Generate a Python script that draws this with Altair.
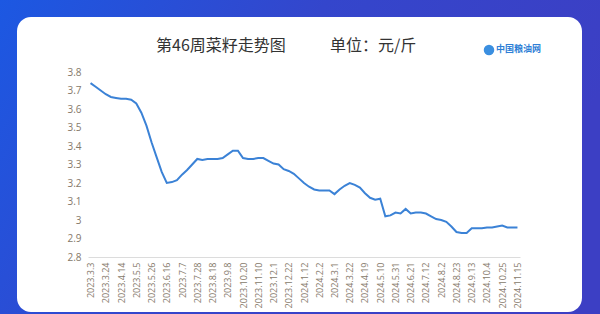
import altair as alt
import pandas as pd

dates = [
    "2023.3.3", "2023.3.10", "2023.3.17", "2023.3.24", "2023.3.31", "2023.4.7", "2023.4.14",
    "2023.4.21", "2023.4.28", "2023.5.5", "2023.5.12", "2023.5.19", "2023.5.26", "2023.6.2",
    "2023.6.9", "2023.6.16", "2023.6.23", "2023.6.30", "2023.7.7", "2023.7.14", "2023.7.21",
    "2023.7.28", "2023.8.4", "2023.8.11", "2023.8.18", "2023.8.25", "2023.9.1", "2023.9.8",
    "2023.9.15", "2023.9.22", "2023.10.20", "2023.10.27", "2023.11.3", "2023.11.10", "2023.11.17",
    "2023.11.24", "2023.12.1", "2023.12.8", "2023.12.15", "2023.12.22", "2023.12.29", "2024.1.5",
    "2024.1.12", "2024.1.19", "2024.1.26", "2024.2.2", "2024.2.8", "2024.2.23", "2024.3.1",
    "2024.3.8", "2024.3.15", "2024.3.22", "2024.3.29", "2024.4.12", "2024.4.19", "2024.4.26",
    "2024.5.3", "2024.5.10", "2024.5.17", "2024.5.24", "2024.5.31", "2024.6.7", "2024.6.14",
    "2024.6.21", "2024.6.28", "2024.7.5", "2024.7.12", "2024.7.19", "2024.7.26", "2024.8.2",
    "2024.8.9", "2024.8.16", "2024.8.23", "2024.8.30", "2024.9.6", "2024.9.13", "2024.9.20",
    "2024.9.27", "2024.10.4", "2024.10.11", "2024.10.18", "2024.10.25", "2024.11.1", "2024.11.8",
    "2024.11.15",
]

prices = [
    3.74, 3.72, 3.70, 3.68, 3.665, 3.66, 3.655, 3.655, 3.65, 3.63,
    3.58, 3.51, 3.42, 3.34, 3.26, 3.20, 3.205, 3.215, 3.245, 3.27,
    3.30, 3.33, 3.325, 3.33, 3.33, 3.33, 3.335, 3.355, 3.375, 3.375,
    3.335, 3.33, 3.33, 3.335, 3.335, 3.32, 3.305, 3.30, 3.275, 3.265,
    3.25, 3.225, 3.20, 3.18, 3.165, 3.16, 3.16, 3.16, 3.14, 3.165,
    3.185, 3.20, 3.19, 3.175, 3.145, 3.12, 3.11, 3.115, 3.02, 3.025,
    3.04, 3.035, 3.06, 3.035, 3.04, 3.04, 3.035, 3.02, 3.005, 3.0,
    2.99, 2.965, 2.935, 2.93, 2.93, 2.955, 2.955, 2.955, 2.96, 2.96,
    2.965, 2.97, 2.96, 2.96, 2.96,
]

tick_labels = [
    "2023.3.3", "2023.3.24", "2023.4.14", "2023.5.5", "2023.5.26", "2023.6.16", "2023.7.7",
    "2023.7.28", "2023.8.18", "2023.9.8", "2023.10.20", "2023.11.10", "2023.12.1", "2023.12.22",
    "2024.1.12", "2024.2.2", "2024.3.1", "2024.3.22", "2024.4.19", "2024.5.10", "2024.5.31",
    "2024.6.21", "2024.7.12", "2024.8.2", "2024.8.23", "2024.9.13", "2024.10.4", "2024.10.25",
    "2024.11.15",
]

y_ticks = [2.8, 2.9, 3.0, 3.1, 3.2, 3.3, 3.4, 3.5, 3.6, 3.7, 3.8]

title_main = "第46周菜籽走势图"
title_unit = "单位：元/斤"
logo_text = "中国粮油网"

PAD_L, PAD_T, PAD_R, PAD_B = 88, 72, 80, 57
W, H = 600 - PAD_L - PAD_R, 314 - PAD_T - PAD_B

df = pd.DataFrame({"date": dates, "price": prices})
one = pd.DataFrame({"a": [0]})

bg = alt.Chart(one).mark_rect(
    color=alt.Gradient(
        gradient="linear",
        stops=[
            alt.GradientStop(color="#1c58e2", offset=0),
            alt.GradientStop(color="#3446cc", offset=0.5),
            alt.GradientStop(color="#3c3fc4", offset=1),
        ],
        x1=0, x2=1, y1=0, y2=0.3,
    )
).encode(
    x=alt.value(-PAD_L), x2=alt.value(600 - PAD_L),
    y=alt.value(-PAD_T), y2=alt.value(314 - PAD_T),
)

panel = alt.Chart(one).mark_rect(color="white", cornerRadius=14).encode(
    x=alt.value(17 - PAD_L), x2=alt.value(582 - PAD_L),
    y=alt.value(17 - PAD_T), y2=alt.value(312 - PAD_T),
)

line = alt.Chart(df).mark_line(color="#3b82d6", strokeWidth=2).encode(
    x=alt.X(
        "date:N", sort=None, title=None,
        scale=alt.Scale(type="point", padding=0.5),
        axis=alt.Axis(
            values=tick_labels, labelAngle=-90, ticks=False, domainColor="#dcdcdc",
            labelColor="#85796a", labelFontSize=9, labelFont="Open Sans",
            labelPadding=5, zindex=1, grid=False,
        ),
    ),
    y=alt.Y(
        "price:Q", title=None,
        scale=alt.Scale(domain=[2.8, 3.8], nice=False, zero=False),
        axis=alt.Axis(
            values=y_ticks, format=".1~f", domain=False, ticks=False, grid=False,
            labelColor="#85796a", labelFontSize=10, labelFont="Open Sans",
            labelPadding=7, zindex=1,
        ),
    ),
)

t1 = alt.Chart(one).mark_text(
    text=title_main, align="left", baseline="middle", fontSize=16,
    font="Noto Sans CJK SC", color="#333333",
).encode(x=alt.value(156 - PAD_L), y=alt.value(46 - PAD_T))

t2 = alt.Chart(one).mark_text(
    text=title_unit, align="left", baseline="middle", fontSize=16,
    font="Noto Sans CJK SC", color="#333333",
).encode(x=alt.value(330 - PAD_L), y=alt.value(46 - PAD_T))

logo_dot = alt.Chart(one).mark_point(
    filled=True, shape="circle", size=110, color="#3b8fe0", opacity=1,
).encode(x=alt.value(489 - PAD_L), y=alt.value(50 - PAD_T))

logo_t = alt.Chart(one).mark_text(
    text=logo_text, align="left", baseline="middle", fontSize=9, fontWeight="bold",
    font="Noto Sans CJK SC", color="#2f7fd6",
).encode(x=alt.value(496 - PAD_L), y=alt.value(49 - PAD_T))

chart = alt.layer(bg, panel, line, t1, t2, logo_dot, logo_t).properties(
    width=W, height=H,
    padding={"left": PAD_L, "top": PAD_T, "right": PAD_R, "bottom": PAD_B},
    autosize=alt.AutoSizeParams(type="none"),
).configure_view(stroke=None)

chart.save("out.html", embed_options={"renderer": "svg", "actions": False})
